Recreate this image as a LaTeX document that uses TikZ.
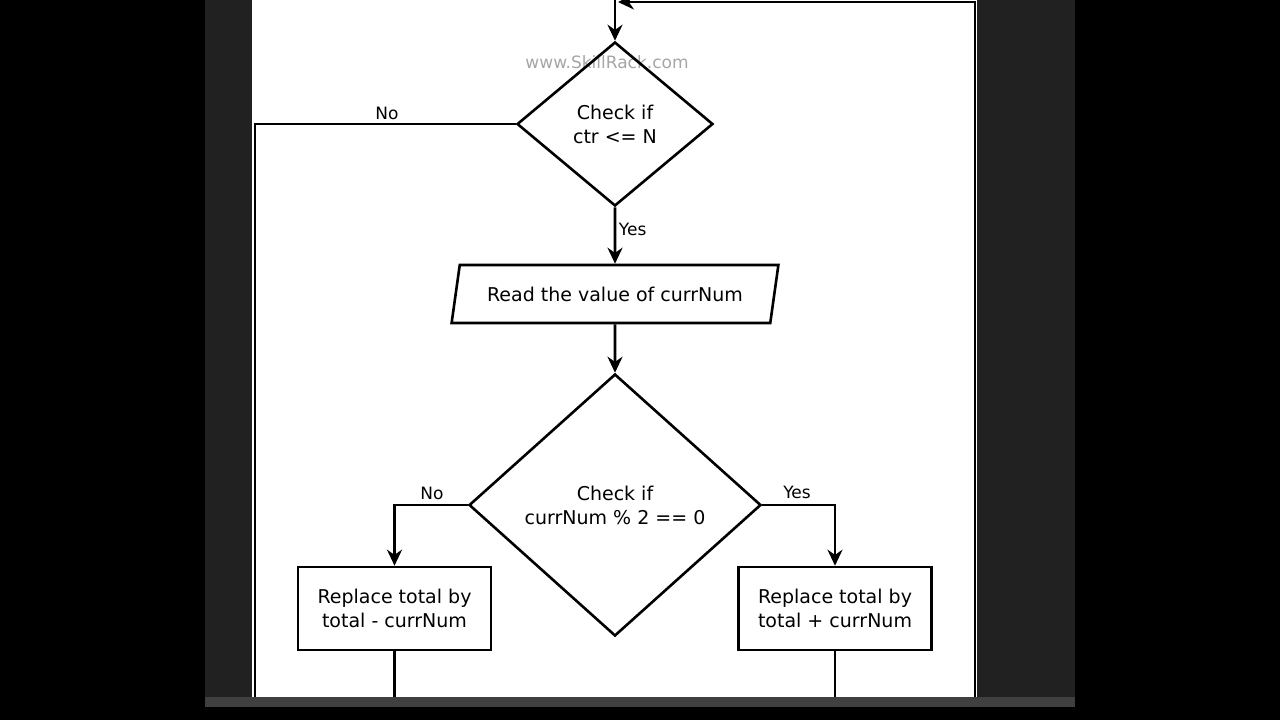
\documentclass[tikz,border=0pt]{standalone}
\usepackage{fontspec}
\setmainfont{DejaVu Sans}
\usetikzlibrary{shapes.geometric,arrows.meta}
\begin{document}
\begin{tikzpicture}[x=0.5pt,y=-0.5pt,
  ln/.style={line width=1.3pt},
  ar/.style={ln,-{Stealth[length=8pt,width=7.5pt]}},
  dia/.style={draw,ln,diamond,aspect=1.2,align=center,font=\fontsize{9.5}{12}\selectfont,inner sep=0pt},
  box/.style={draw,ln,rectangle,align=center,font=\fontsize{9.5}{12}\selectfont,minimum width=96.5pt,minimum height=41.5pt},
  lbl/.style={font=\fontsize{8.5}{10}\selectfont}]
\fill[black] (0,0) rectangle (1280,720);
\fill[black!87] (205,0) rectangle (1075,697);
\fill[black!75] (205,697) rectangle (1075,707);
\fill[white] (252,0) rectangle (977,697);
\useasboundingbox (0,0) rectangle (1280,720);
\node[text=black!35,font=\fontsize{8.5}{10}\selectfont] (wm) at (607,62) {www.SkillRack.com};
\node[dia,minimum width=98pt,minimum height=82pt] (d1) at (615,124) {Check if\\ctr <= N};
\node[draw,ln,trapezium,trapezium left angle=70,trapezium right angle=110,trapezium stretches=true,font=\fontsize{9.5}{12}\selectfont,minimum height=29pt,minimum width=163.5pt,inner sep=1pt] (rd) at (615,294) {Read the value of currNum};
\node[dia,minimum width=146pt,minimum height=131pt] (d2) at (615,505) {Check if\\currNum \% 2 == 0};
\node[box] (bl) at (394.5,608.5) {Replace total by\\total - currNum};
\node[box] (br) at (835,608.5) {Replace total by\\total + currNum};
\coordinate (top) at (615,0);
\coordinate (tr) at (975,2);
\coordinate (trb) at (975,697);
\coordinate (ta) at (618,2);
\coordinate (nl) at (255,124);
\coordinate (nlb) at (255,697);
\coordinate (bla) at (394.5,697);
\coordinate (bra) at (835,697);
\draw[ar] (top) -- (d1.north);
\draw[ar] (trb) -- (tr) -- (ta);
\draw[ln] (d1.west) -- (nl) -- (nlb);
\draw[ar] (d1.south) -- (rd.north) node[lbl,pos=0.4,right,xshift=-2pt] {Yes};
\draw[ar] (rd.south) -- (d2.north);
\draw[ar] (d2.west) -| (bl.north);
\draw[ar] (d2.east) -| (br.north);
\node[lbl] at (432,493) {No};
\node[lbl] at (797,492) {Yes};
\node[lbl] at (387,113) {No};
\draw[ln] (bl.south) -- (bla);
\draw[ln] (br.south) -- (bra);
\end{tikzpicture}
\end{document}
